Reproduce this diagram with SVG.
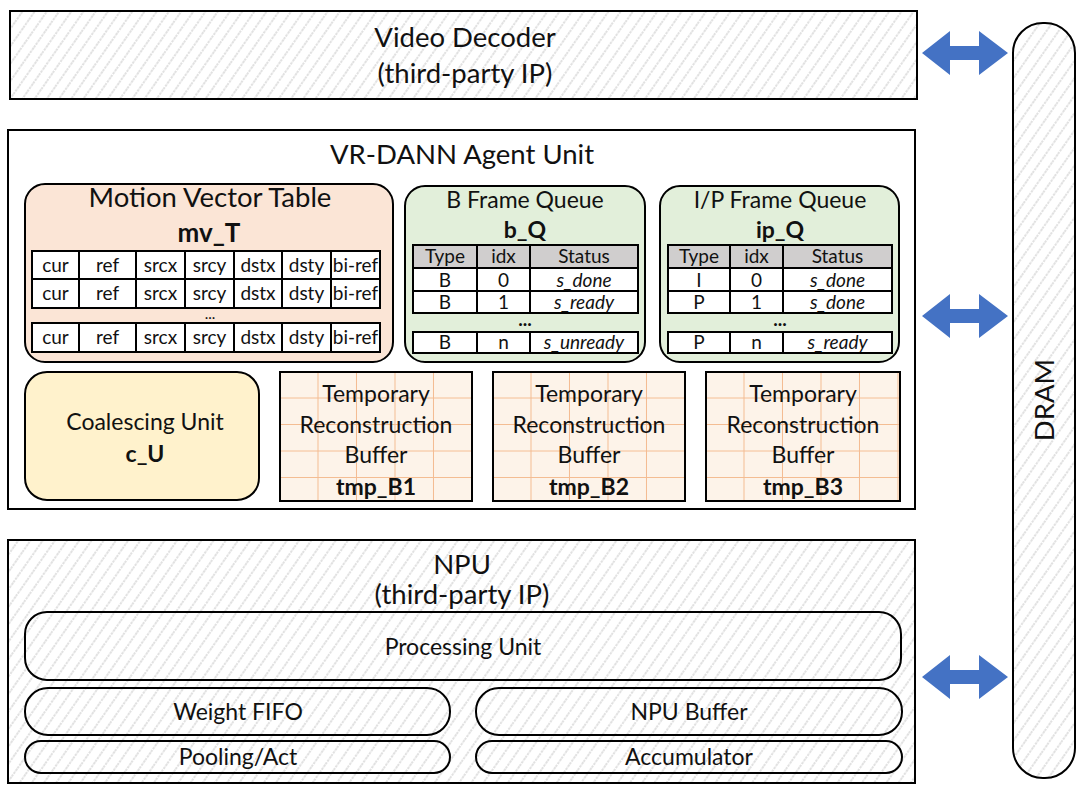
<svg xmlns="http://www.w3.org/2000/svg" width="1084" height="790" viewBox="0 0 1084 790">
<defs>
<pattern id="hatch" patternUnits="userSpaceOnUse" width="10" height="10" patternTransform="rotate(35)">
<rect width="10" height="10" fill="#ffffff"/>
<line x1="5" y1="0" x2="5" y2="10" stroke="#c4c4c4" stroke-width="1" stroke-dasharray="2.5 1"/>
</pattern>
<pattern id="grid" patternUnits="userSpaceOnUse" x="0" y="0" width="38.5" height="26.5">
<rect width="38.5" height="26.5" fill="#fdf3e9"/>
<path d="M38.5,0 V26.5 M0,26.5 H38.5" stroke="#f4bc92" stroke-width="2" fill="none"/>
</pattern>
<pattern id="grid1" href="#grid" x="280" y="372"/>
<pattern id="grid2" href="#grid" x="493" y="372"/>
<pattern id="grid3" href="#grid" x="706" y="372"/>
<style>
text{font-family:Lato,"Open Sans","Liberation Sans",sans-serif;fill:#111;text-anchor:middle}
.big{font-size:27.5px}
.mid{font-size:23px}
.sm{font-size:19px}
.b{font-weight:bold}
.i{font-style:italic}
.box{stroke:#000;stroke-width:2;fill:none}
.hatch{fill:url(#hatch);stroke:#000;stroke-width:2}
.cell{fill:#fff;stroke:#000;stroke-width:2}
.hdr{fill:#d0cece;stroke:#000;stroke-width:2}
.ln{stroke:#000;stroke-width:2;fill:none}
.arrow{fill:#4472c4}
</style>
</defs>
<rect width="1084" height="790" fill="#ffffff"/>

<g id="video-decoder">
<rect class="hatch" x="10" y="11" width="907" height="88"/>
<text class="big" x="465" y="47">Video Decoder</text>
<text class="big" x="465" y="83">(third-party IP)</text>
</g>

<g id="dram">
<rect class="hatch" x="1013" y="23" width="62" height="755" rx="30" ry="30"/>
<text class="big" transform="translate(1054,400) rotate(-90)">DRAM</text>
</g>

<g id="agent-unit">
<rect x="8" y="130" width="907" height="379" fill="#fff" stroke="#000" stroke-width="2"/>
<text class="big" x="462" y="164">VR-DANN Agent Unit</text>
</g>

<g id="mv-table">
<rect x="25" y="184" width="368" height="178" rx="20" ry="20" fill="#fbe5d6" stroke="#000" stroke-width="2"/>
<text class="big" x="210" y="207">Motion Vector Table</text>
<text class="b" x="209" y="242" font-size="26">mv_T</text>
<rect class="cell" x="32" y="251" width="348" height="57"/>
<line class="ln" x1="32" y1="279" x2="380" y2="279"/>
<rect class="cell" x="32" y="323" width="348" height="29"/>
<path class="ln" d="M79,251V308M136,251V308M185,251V308M234,251V308M282,251V308M331,251V308M79,323V352M136,323V352M185,323V352M234,323V352M282,323V352M331,323V352"/>
<text x="55.5" y="272" class="sm">cur</text><text x="107.5" y="272" class="sm">ref</text><text x="160.5" y="272" class="sm">srcx</text><text x="209.5" y="272" class="sm">srcy</text><text x="258" y="272" class="sm">dstx</text><text x="306.5" y="272" class="sm">dsty</text><text x="355.5" y="272" class="sm">bi-ref</text>
<text x="55.5" y="300" class="sm">cur</text><text x="107.5" y="300" class="sm">ref</text><text x="160.5" y="300" class="sm">srcx</text><text x="209.5" y="300" class="sm">srcy</text><text x="258" y="300" class="sm">dstx</text><text x="306.5" y="300" class="sm">dsty</text><text x="355.5" y="300" class="sm">bi-ref</text>
<text x="210" y="319" font-size="15">...</text>
<text x="55.5" y="344" class="sm">cur</text><text x="107.5" y="344" class="sm">ref</text><text x="160.5" y="344" class="sm">srcx</text><text x="209.5" y="344" class="sm">srcy</text><text x="258" y="344" class="sm">dstx</text><text x="306.5" y="344" class="sm">dsty</text><text x="355.5" y="344" class="sm">bi-ref</text>
</g>

<g id="b-queue">
<rect x="405" y="186" width="240" height="176" rx="20" ry="20" fill="#e2efda" stroke="#000" stroke-width="2"/>
<text class="mid" x="525" y="208">B Frame Queue</text>
<text class="mid b" x="525" y="238">b_Q</text>
<rect class="hdr" x="413" y="245" width="225" height="23"/>
<rect class="cell" x="413" y="268" width="225" height="45"/>
<line class="ln" x1="413" y1="291" x2="638" y2="291"/>
<rect class="cell" x="413" y="332" width="225" height="21"/>
<path class="ln" d="M477,245V313M530,245V313M477,332V353M530,332V353"/>
<text class="sm" x="445" y="263">Type</text><text class="sm" x="503.5" y="263">idx</text><text class="sm" x="584" y="263">Status</text>
<text class="sm" x="445" y="287">B</text><text class="sm" x="503.5" y="287">0</text><text class="sm i" x="584" y="287">s_done</text>
<text class="sm" x="445" y="309">B</text><text class="sm" x="503.5" y="309">1</text><text class="sm i" x="584" y="309">s_ready</text>
<text class="sm b" x="525" y="326">...</text>
<text class="sm" x="445" y="349">B</text><text class="sm" x="503.5" y="349">n</text><text class="sm i" x="584" y="349">s_unready</text>
</g>

<g id="ip-queue">
<rect x="660" y="186" width="239" height="176" rx="20" ry="20" fill="#e2efda" stroke="#000" stroke-width="2"/>
<text class="mid" x="780" y="208">I/P Frame Queue</text>
<text class="mid b" x="780" y="238">ip_Q</text>
<rect class="hdr" x="668" y="245" width="224" height="23"/>
<rect class="cell" x="668" y="268" width="224" height="45"/>
<line class="ln" x1="668" y1="291" x2="892" y2="291"/>
<rect class="cell" x="668" y="332" width="224" height="21"/>
<path class="ln" d="M730,245V313M783,245V313M730,332V353M783,332V353"/>
<text class="sm" x="699" y="263">Type</text><text class="sm" x="756.5" y="263">idx</text><text class="sm" x="837.5" y="263">Status</text>
<text class="sm" x="699" y="287">I</text><text class="sm" x="756.5" y="287">0</text><text class="sm i" x="837.5" y="287">s_done</text>
<text class="sm" x="699" y="309">P</text><text class="sm" x="756.5" y="309">1</text><text class="sm i" x="837.5" y="309">s_done</text>
<text class="sm b" x="780" y="326">...</text>
<text class="sm" x="699" y="349">P</text><text class="sm" x="756.5" y="349">n</text><text class="sm i" x="837.5" y="349">s_ready</text>
</g>

<g id="coalescing-unit">
<rect x="25" y="372" width="234" height="128" rx="22" ry="22" fill="#fff2cc" stroke="#000" stroke-width="2"/>
<text class="mid" x="145" y="430">Coalescing Unit</text>
<text class="mid b" x="145" y="462">c_U</text>
</g>

<g id="tmp-b1">
<rect x="280" y="372" width="192" height="129" fill="url(#grid1)" stroke="#000" stroke-width="2"/>
<text class="mid" x="376" y="402">Temporary</text>
<text class="mid" x="376" y="433">Reconstruction</text>
<text class="mid" x="376" y="463">Buffer</text>
<text class="mid b" x="376" y="495">tmp_B1</text>
</g>
<g id="tmp-b2">
<rect x="493" y="372" width="192" height="129" fill="url(#grid2)" stroke="#000" stroke-width="2"/>
<text class="mid" x="589" y="402">Temporary</text>
<text class="mid" x="589" y="433">Reconstruction</text>
<text class="mid" x="589" y="463">Buffer</text>
<text class="mid b" x="589" y="495">tmp_B2</text>
</g>
<g id="tmp-b3">
<rect x="706" y="372" width="194" height="129" fill="url(#grid3)" stroke="#000" stroke-width="2"/>
<text class="mid" x="803" y="402">Temporary</text>
<text class="mid" x="803" y="433">Reconstruction</text>
<text class="mid" x="803" y="463">Buffer</text>
<text class="mid b" x="803" y="495">tmp_B3</text>
</g>

<g id="npu">
<rect class="hatch" x="8" y="540" width="907" height="243"/>
<text class="big" x="462" y="574">NPU</text>
<text class="big" x="462" y="604">(third-party IP)</text>
</g>
<g id="processing-unit">
<rect class="box" x="25" y="612" width="876" height="68" rx="22" ry="22"/>
<text class="mid" x="463" y="655">Processing Unit</text>
</g>
<g id="weight-fifo">
<rect class="box" x="25" y="688" width="425" height="47" rx="23" ry="23"/>
<text class="mid" x="238" y="720">Weight FIFO</text>
</g>
<g id="npu-buffer">
<rect class="box" x="476" y="688" width="426" height="47" rx="23" ry="23"/>
<text class="mid" x="689" y="720">NPU Buffer</text>
</g>
<g id="pooling-act">
<rect class="box" x="25" y="741" width="425" height="32" rx="16" ry="16"/>
<text class="mid" x="238" y="765">Pooling/Act</text>
</g>
<g id="accumulator">
<rect class="box" x="476" y="741" width="426" height="32" rx="16" ry="16"/>
<text class="mid" x="689" y="765">Accumulator</text>
</g>

<g id="connectors">
<path class="arrow" d="M922,53 L950,31 L950,46 L979,46 L979,31 L1008,53 L979,75 L979,60 L950,60 L950,75 Z"/>
<path class="arrow" d="M922,316 L950,294 L950,309 L979,309 L979,294 L1008,316 L979,338 L979,323 L950,323 L950,338 Z"/>
<path class="arrow" d="M922,677 L950,655 L950,670 L979,670 L979,655 L1008,677 L979,699 L979,684 L950,684 L950,699 Z"/>
</g>
</svg>
